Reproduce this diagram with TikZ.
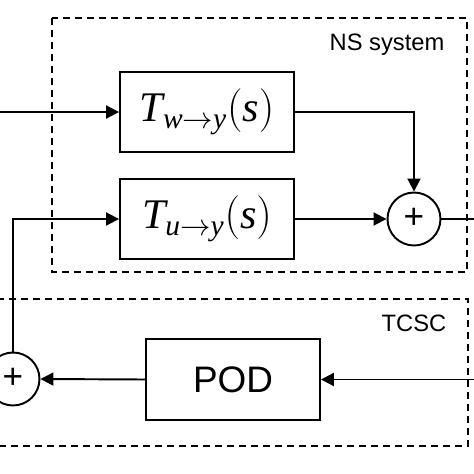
\documentclass[tikz,border=0pt]{standalone}
\usepackage{fontspec}
\setmainfont{Liberation Serif}
\setsansfont{Liberation Sans}
\usepackage{tikz}
\usetikzlibrary{arrows.meta,positioning}

\begin{document}
\begin{tikzpicture}[
    x=0.02cm, y=-0.02cm,
    line width=1.1pt,
    arr/.style={-{Triangle[length=0.26cm,width=0.26cm]}},
    block/.style={draw, minimum width=3.48cm, minimum height=1.6cm, inner sep=0pt},
    tfblock/.style={block, font=\fontsize{24}{27}\selectfont},
    podblock/.style={block, minimum height=1.62cm, font=\sffamily\fontsize{21}{24}\selectfont},
    sumnode/.style={draw, circle, minimum size=1.06cm, inner sep=0pt, font=\sffamily\fontsize{20}{22}\selectfont},
    area/.style={dash pattern=on 0.14cm off 0.1cm},
    arealbl/.style={font=\sffamily\fontsize{13.5}{16}\selectfont, anchor=base},
]
\useasboundingbox (0,0) rectangle (474,474);

% dashed areas
\draw[area] (52,18) rectangle (467,272);
\node[arealbl] (nslbl) at (387,50) {NS system};
\draw[area] (-10,299) rectangle (468,446);
\node[arealbl] (tcsclbl) at (414,331) {TCSC};

% NS system
\node[tfblock] (tw) at (207,112) {$\mathit{T}_{\mathit{w}\rightarrow \mathit{y}}(\mathit{s})$};
\node[tfblock] (tu) at (207,219) {$\mathit{T}_{\mathit{u}\rightarrow \mathit{y}}(\mathit{s})$};
\node[sumnode] (sumy) at (414,219) {\raisebox{0.5pt}{+}};

% TCSC
\node[podblock] (pod) at (233,379.5) {POD};
\node[sumnode] (sumu) at (13,379) {\raisebox{0.5pt}{+}};

% free ends
\coordinate (win) at (0,112);
\coordinate (yout) at (474,219);
\coordinate (fbin) at (474,379.5);

% connections
\draw[arr] (win) -- (tw.west);
\draw[arr] (tw.east) -| (sumy.north);
\draw[arr] (tu.east) -- (sumy.west);
\draw (sumy.east) -- (yout);
\draw[arr] (fbin) -- (pod.east);
\draw[arr] (pod.west) -- (sumu.east);
\draw[arr] (sumu.north) |- (tu.west);

\end{tikzpicture}
\end{document}
